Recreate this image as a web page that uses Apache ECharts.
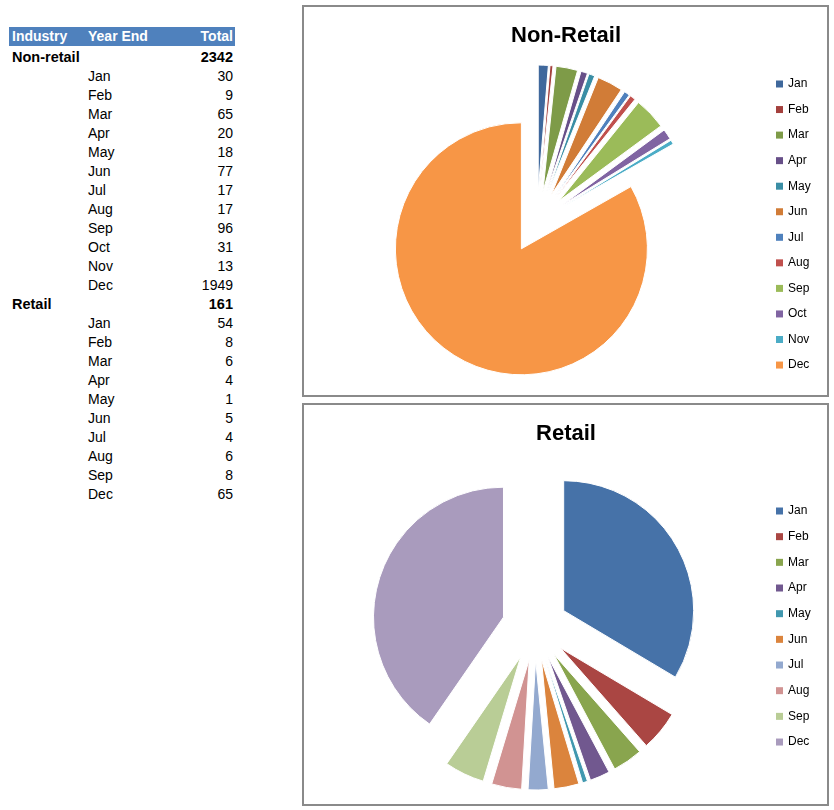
<!DOCTYPE html>
<html>
<head>
<meta charset="utf-8">
<script src="https://cdn.jsdelivr.net/npm/echarts@6/dist/echarts.min.js"></script>
<style>
    body { margin: 0; background: #fff; width: 834px; height: 810px; position: relative; overflow: hidden; }
    #dataTable { position: absolute; left: 9px; top: 27px; border-collapse: collapse; table-layout: fixed;
        font-family: "Liberation Sans", Arial, sans-serif; font-size: 14px; color: #000; }
    #dataTable td { height: 19px; line-height: 19px; padding: 0; white-space: nowrap; }
    #dataTable tr.body td { position: relative; top: 2px; }
    #dataTable td.c1 { width: 73px; padding-left: 3px; }
    #dataTable td.c2 { width: 72px; padding-left: 3px; }
    #dataTable td.c3 { width: 73px; padding-right: 2px; text-align: right; }
    #dataTable tr.head td { background: #4f81bd; color: #fff; font-weight: bold; }
    #dataTable tr.group td { font-weight: bold; font-size: 14.5px; }
    .chartBox { position: absolute; left: 302px; width: 528px; }
</style>
</head>
<body>
<table id="dataTable"></table>
<div id="nonRetailPie" class="chartBox" style="top:5px;height:393px;"></div>
<div id="retailPie" class="chartBox" style="top:403px;height:404px;"></div>
<script>
// 数据
var nonRetailMonths = ['Jan', 'Feb', 'Mar', 'Apr', 'May', 'Jun', 'Jul', 'Aug', 'Sep', 'Oct', 'Nov', 'Dec'];
var nonRetailValues = [30, 9, 65, 20, 18, 77, 17, 17, 96, 31, 13, 1949];
var retailMonths = ['Jan', 'Feb', 'Mar', 'Apr', 'May', 'Jun', 'Jul', 'Aug', 'Sep', 'Dec'];
var retailValues = [54, 8, 6, 4, 1, 5, 4, 6, 8, 65];

var nonRetailColors = ['#3f689c', '#a4403d', '#7e9b48', '#674f88', '#3a8ea5', '#d17c37',
    '#4f81bd', '#c0504d', '#9bbb59', '#8064a2', '#4bacc6', '#f79646'];
var retailColors = ['#4672a8', '#aa4643', '#89a54e', '#71588f', '#4198af', '#db843d',
    '#93a9cf', '#d19392', '#b9cd96', '#a99bbd'];

function sum(arr) {
    var s = 0;
    for (var i = 0; i < arr.length; i++) s += arr[i];
    return s;
}

// 左侧数据表
function buildTable() {
    var html = '<tr class="head"><td class="c1">Industry</td><td class="c2">Year End</td><td class="c3">Total</td></tr>';
    html += '<tr class="group body"><td class="c1">Non-retail</td><td class="c2"></td><td class="c3">' + sum(nonRetailValues) + '</td></tr>';
    for (var i = 0; i < nonRetailMonths.length; i++) {
        html += '<tr class="body"><td class="c1"></td><td class="c2">' + nonRetailMonths[i] + '</td><td class="c3">' + nonRetailValues[i] + '</td></tr>';
    }
    html += '<tr class="group body"><td class="c1">Retail</td><td class="c2"></td><td class="c3">' + sum(retailValues) + '</td></tr>';
    for (var j = 0; j < retailMonths.length; j++) {
        html += '<tr class="body"><td class="c1"></td><td class="c2">' + retailMonths[j] + '</td><td class="c3">' + retailValues[j] + '</td></tr>';
    }
    document.getElementById('dataTable').innerHTML = html;
}

// 分离饼图
function setPieData(domId, title, months, values, colors, boxHeight, center, radius, offset, legendTop, legendGap) {
    var myChart = echarts.init(document.getElementById(domId));
    var data = [];
    for (var i = 0; i < months.length; i++) {
        data.push({value: values[i], name: months[i], selected: true});
    }
    var option = {
        animation: false,
        color: colors,
        title: {
            text: title,
            left: 'center',
            top: 15,
            textStyle: {fontFamily: 'Liberation Sans', fontSize: 22, fontWeight: 'bold', color: '#000'}
        },
        legend: {
            orient: 'vertical',
            left: 474,
            top: legendTop,
            padding: 0,
            icon: 'rect',
            itemWidth: 7,
            itemHeight: 7,
            itemGap: legendGap,
            selectedMode: false,
            itemStyle: {borderWidth: 0},
            data: months,
            textStyle: {fontFamily: 'Liberation Sans', fontSize: 12, lineHeight: 14, color: '#000'}
        },
        graphic: [{
            type: 'rect',
            shape: {x: 1, y: 1, width: 525, height: boxHeight},
            style: {fill: 'none', stroke: '#8a8a8a', lineWidth: 2},
            silent: true
        }],
        series: [
            {
                name: title,
                type: 'pie',
                radius: radius,
                center: center,
                startAngle: 90,
                clockwise: true,
                selectedMode: 'multiple',
                selectedOffset: offset,
                label: {show: false},
                labelLine: {show: false},
                itemStyle: {borderColor: '#fff', borderWidth: 1},
                emphasis: {disabled: true},
                data: data
            }
        ]
    };
    myChart.setOption(option);
}

buildTable();
setPieData('nonRetailPie', 'Non-Retail', nonRetailMonths, nonRetailValues, nonRetailColors, 390, [235, 217], 126, 31, 72, 11.55);
setPieData('retailPie', 'Retail', retailMonths, retailValues, retailColors, 401, [233, 224], 130, 33, 101, 11.67);
</script>
</body>
</html>
